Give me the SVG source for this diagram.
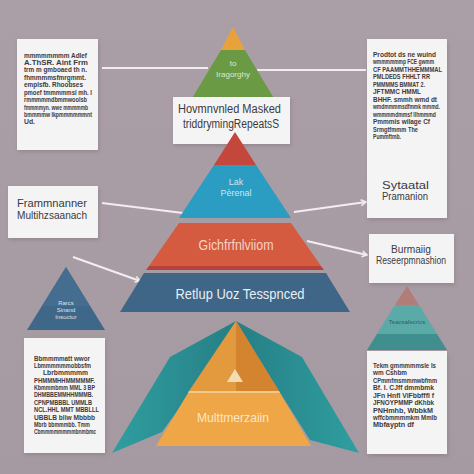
<svg xmlns="http://www.w3.org/2000/svg" width="474" height="474" viewBox="0 0 474 474">
<defs>
<filter id="sh" x="-20%" y="-20%" width="140%" height="140%"><feDropShadow dx="1" dy="2" stdDeviation="2" flood-color="#6d6068" flood-opacity="0.35"/></filter>
<marker id="ah" markerWidth="8" markerHeight="8" refX="6" refY="4" orient="auto" markerUnits="userSpaceOnUse"><path d="M1,1 L6,4 L1,7" fill="none" stroke="#f2eef0" stroke-width="1.5"/></marker>
<linearGradient id="bg" x1="0" y1="0" x2="0" y2="1"><stop offset="0" stop-color="#aa9fa7"/><stop offset="1" stop-color="#a69aa2"/></linearGradient>
<linearGradient id="wingL" x1="0" y1="0" x2="1" y2="0"><stop offset="0" stop-color="#2f9ea0"/><stop offset="1" stop-color="#267f85"/></linearGradient>
<linearGradient id="wingR" x1="1" y1="0" x2="0" y2="0"><stop offset="0" stop-color="#2f9ea0"/><stop offset="1" stop-color="#267f85"/></linearGradient>
</defs>
<style>
.card{fill:#f5f4f5;filter:url(#sh)}
.ct{font-family:"Liberation Sans",Arial,sans-serif;font-size:7px;font-weight:bold;fill:#3c3a3c}
.lbl{font-family:"Liberation Sans",Arial,sans-serif;fill:#3a3a3c}
.conn{stroke:#f2eef0;stroke-width:2;fill:none}
.tier{font-family:"Liberation Sans",Arial,sans-serif;text-anchor:middle}
</style>
<rect width="474" height="474" fill="url(#bg)"/>

<g id="connectors">
<line class="conn" x1="102" y1="68" x2="208" y2="68"/>
<line class="conn" x1="257" y1="70" x2="366" y2="70"/>
<line class="conn" x1="102" y1="203" x2="183" y2="213"/>
<line class="conn" x1="73" y1="257" x2="140" y2="281" marker-end="url(#ah)"/>
<line class="conn" x1="294" y1="212" x2="366" y2="202" marker-end="url(#ah)"/>
<line class="conn" x1="307" y1="241" x2="367" y2="255" marker-end="url(#ah)"/>
</g>

<g id="top-pyramid">
<polygon points="233,27 245,50 221,50" fill="#e9a23a"/>
<polygon points="221,50 245,50 275,100 191,100" fill="#6b9a45"/>
<text class="tier" x="233" y="66" font-size="8" fill="#d8e9c9">to</text>
<text class="tier" x="233" y="77" font-size="8" fill="#d8e9c9">Iragorghy</text>
</g>

<g id="label-masked">
<rect class="card" x="173" y="97" width="117" height="47"/>
<text class="lbl" x="178" y="113" font-size="12" textLength="103" lengthAdjust="spacingAndGlyphs">Hovmnvnled Masked</text>
<text class="lbl" x="183" y="128" font-size="12" textLength="96" lengthAdjust="spacingAndGlyphs">triddrymingRepeatsS</text>
</g>

<g id="card-top-left">
<rect class="card" x="17" y="39" width="81" height="111"/>
<text class="ct" x="24" y="58" textLength="63" lengthAdjust="spacingAndGlyphs">mmmmmmmm Adlef</text>
<text class="ct" x="24" y="65" textLength="64" lengthAdjust="spacingAndGlyphs">A.ThSR. Aint Frm</text>
<text class="ct" x="24" y="72" textLength="63" lengthAdjust="spacingAndGlyphs">trm m gmboaed th n.</text>
<text class="ct" x="24" y="80" textLength="62" lengthAdjust="spacingAndGlyphs">fhmmmmsfmrgmmt.</text>
<text class="ct" x="24" y="87" textLength="59" lengthAdjust="spacingAndGlyphs">emplsfb. Rhoobses</text>
<text class="ct" x="24" y="95" textLength="68" lengthAdjust="spacingAndGlyphs">pmoef tmmmmmsl mh. I</text>
<text class="ct" x="24" y="102" textLength="63" lengthAdjust="spacingAndGlyphs">rmmmmmdbmmwoolsb</text>
<text class="ct" x="24" y="110" textLength="64" lengthAdjust="spacingAndGlyphs">fmmmmyn. wwe mmmmmb</text>
<text class="ct" x="24" y="117" textLength="68" lengthAdjust="spacingAndGlyphs">bmmmmw Ikpmmmmmmnt</text>
<text class="ct" x="24" y="124" textLength="11" lengthAdjust="spacingAndGlyphs">Ud.</text>
</g>

<g id="card-top-right">
<rect class="card" x="367" y="39" width="80" height="179"/>
<text class="ct" x="373" y="57" textLength="63" lengthAdjust="spacingAndGlyphs">Prodtot ds ne wuind</text>
<text class="ct" x="373" y="64" textLength="61" lengthAdjust="spacingAndGlyphs">wmmmmmmp FCE gwmm</text>
<text class="ct" x="373" y="72" textLength="69" lengthAdjust="spacingAndGlyphs">CF PAAMMTHHEMMMAL</text>
<text class="ct" x="373" y="79" textLength="57" lengthAdjust="spacingAndGlyphs">PMLDEDS FHHLT RR</text>
<text class="ct" x="373" y="87" textLength="52" lengthAdjust="spacingAndGlyphs">PMMMMS BMMAT 2.</text>
<text class="ct" x="373" y="94" textLength="48" lengthAdjust="spacingAndGlyphs">JFTMMC HMML</text>
<text class="ct" x="373" y="102" textLength="64" lengthAdjust="spacingAndGlyphs">BHHF. smmh wmd dt</text>
<text class="ct" x="373" y="109" textLength="67" lengthAdjust="spacingAndGlyphs">wmdmmmmsdfmmk mmmd.</text>
<text class="ct" x="373" y="117" textLength="63" lengthAdjust="spacingAndGlyphs">wmmmmdmmsf Ilhmmmd</text>
<text class="ct" x="373" y="124" textLength="57" lengthAdjust="spacingAndGlyphs">Pmmmis wilage Cf</text>
<text class="ct" x="373" y="132" textLength="45" lengthAdjust="spacingAndGlyphs">Srmgtfmmm The</text>
<text class="ct" x="373" y="139" textLength="28" lengthAdjust="spacingAndGlyphs">Pummftmb.</text>
<text class="lbl" x="382" y="189" font-size="11" textLength="47" lengthAdjust="spacingAndGlyphs">Sytaatal</text>
<text class="lbl" x="382" y="200" font-size="11" textLength="46" lengthAdjust="spacingAndGlyphs">Pramanion</text>
</g>

<g id="label-left-mid">
<rect class="card" x="8" y="186" width="90" height="52"/>
<text class="lbl" x="17" y="207" font-size="11" textLength="70" lengthAdjust="spacingAndGlyphs">Frammnanner</text>
<text class="lbl" x="17" y="219" font-size="11" textLength="70" lengthAdjust="spacingAndGlyphs">Multihzsaanach</text>
</g>

<g id="label-right-mid">
<rect class="card" x="369" y="234" width="85" height="49"/>
<text class="lbl" x="411" y="253" font-size="11" text-anchor="middle" fill="#4a5870" textLength="40" lengthAdjust="spacingAndGlyphs">Burmaiig</text>
<text class="lbl" x="376" y="264" font-size="11" fill="#4a5870" textLength="70" lengthAdjust="spacingAndGlyphs">Reseerpmnashion</text>
</g>

<g id="main-pyramid">
<polygon points="235,132 256,165 214,165" fill="#c4473b"/>
<polygon points="214,165 256,165 291,218 179,218" fill="#2b9cc2"/>
<polygon points="179,223 291,223 321,266 149,266" fill="#d45b40"/>
<polygon points="149,266 321,266 324,270 146,270" fill="#b8423a"/>
<polygon points="144,273 326,273 350,312 120,312" fill="#3f6686"/>
<text class="tier" x="236" y="185" font-size="9" fill="#cde6f0">Lak</text>
<text class="tier" x="236" y="196" font-size="9" fill="#cde6f0">Pèrenal</text>
<text class="tier" x="236" y="250" font-size="14" fill="#f6d3c3" textLength="75" lengthAdjust="spacingAndGlyphs">Gichfrfnlviiom</text>
<text class="tier" x="240" y="299" font-size="15" fill="#e9eef3" textLength="129" lengthAdjust="spacingAndGlyphs">Retlup Uoz Tesspnced</text>
</g>

<g id="small-left-pyramid">
<polygon points="66,267 105,330 27,330" fill="#3f6789"/>
<polygon points="66,267 90,306 42,306" fill="#4a7194" opacity="0.6"/>
<text class="tier" x="66" y="305" font-size="6" fill="#d7e2ec">Rarcs</text>
<text class="tier" x="66" y="312" font-size="6" fill="#d7e2ec">Sinand</text>
<text class="tier" x="66" y="319" font-size="6" fill="#d7e2ec">Insuctur</text>
</g>

<g id="card-bottom-left">
<rect class="card" x="24" y="338" width="81" height="115"/>
<text class="ct" x="34" y="361" textLength="56" lengthAdjust="spacingAndGlyphs">Bbmmmmatt wwor</text>
<text class="ct" x="34" y="368" textLength="57" lengthAdjust="spacingAndGlyphs">Lbmmmmmmobbsfm</text>
<text class="ct" x="43" y="375" textLength="45" lengthAdjust="spacingAndGlyphs">Lbrbmmmmm</text>
<text class="ct" x="34" y="383" textLength="61" lengthAdjust="spacingAndGlyphs">PHMMMHHMMMMMF.</text>
<text class="ct" x="34" y="390" textLength="61" lengthAdjust="spacingAndGlyphs">Kbmmmbmm MML 3 BP</text>
<text class="ct" x="34" y="397" textLength="59" lengthAdjust="spacingAndGlyphs">DHMBBEMMHHMMMB.</text>
<text class="ct" x="34" y="405" textLength="58" lengthAdjust="spacingAndGlyphs">CPNPMBBBL UMMLB</text>
<text class="ct" x="34" y="412" textLength="65" lengthAdjust="spacingAndGlyphs">NCL.HHL MMT MBBLLL</text>
<text class="ct" x="34" y="420" textLength="61" lengthAdjust="spacingAndGlyphs">UBBLB bllw Mbbbb</text>
<text class="ct" x="34" y="427" textLength="56" lengthAdjust="spacingAndGlyphs">Mbrb bbmmmbb. Tmm</text>
<text class="ct" x="34" y="434" textLength="62" lengthAdjust="spacingAndGlyphs">Cbmmmmmmmmbnmbmc</text>
</g>

<g id="bottom-pyramid">
<polygon points="236,321 170,357 112,453 162,432 200,380" fill="url(#wingL)"/>
<polygon points="236,321 302,357 359,453 310,440 272,380" fill="url(#wingR)"/>
<polygon points="236,321 236,391 189,391" fill="#e39a3e"/>
<polygon points="236,321 279,391 236,391" fill="#d4842f"/>
<polygon points="227,382 243,382 235,369" fill="#f4dcb2"/>
<polygon points="189,391 279,391 280,393 188,393" fill="#f3c98a"/>
<polygon points="188,393 280,393 311,446 156,446" fill="#eea647"/>
<text class="tier" x="233" y="422" font-size="13" fill="#fae6c6" textLength="72" lengthAdjust="spacingAndGlyphs">Multtmerzaiin</text>
</g>

<g id="small-right-pyramid">
<polygon points="407,286 419,305 395,305" fill="#b27c78"/>
<polygon points="395,305 419,305 437,334 377,334" fill="#5aaaa8"/>
<polygon points="377,334 437,334 447,350 367,350" fill="#3e8f8e"/>
<text class="tier" x="407" y="324" font-size="6" fill="#2f5f6a">Teacsafecrics</text>
</g>

<g id="card-bottom-right">
<rect class="card" x="367" y="351" width="80" height="103"/>
<text class="ct" x="373" y="368" textLength="63" lengthAdjust="spacingAndGlyphs">Tekm gmmmmmsle Is</text>
<text class="ct" x="373" y="375" textLength="34" lengthAdjust="spacingAndGlyphs">wm Cshbm</text>
<text class="ct" x="373" y="383" textLength="64" lengthAdjust="spacingAndGlyphs">CPmmfmsmmmwbfmm</text>
<text class="ct" x="373" y="390" textLength="61" lengthAdjust="spacingAndGlyphs">Bf. I. CJff dmmbmk</text>
<text class="ct" x="373" y="398" textLength="61" lengthAdjust="spacingAndGlyphs">JFn Hnfl ViFbbfffl f</text>
<text class="ct" x="373" y="405" textLength="61" lengthAdjust="spacingAndGlyphs">JFNOYPMMP dKhbk</text>
<text class="ct" x="373" y="413" textLength="60" lengthAdjust="spacingAndGlyphs">PNHmhb, WbbkM</text>
<text class="ct" x="373" y="420" textLength="64" lengthAdjust="spacingAndGlyphs">wffcbmmmmkm Mmlb</text>
<text class="ct" x="373" y="427" textLength="41" lengthAdjust="spacingAndGlyphs">Mbfayptn df</text>
</g>
</svg>
